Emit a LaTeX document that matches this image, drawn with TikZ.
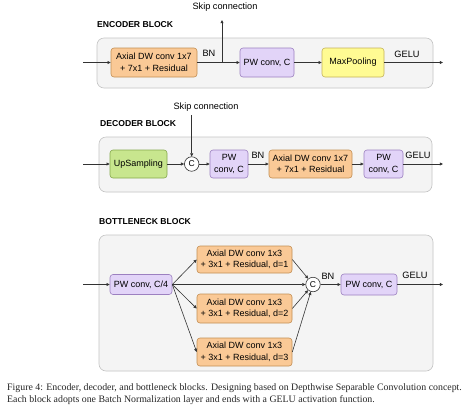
\documentclass[tikz,border=0pt]{standalone}
\usepackage{fontspec}
\setmainfont{Liberation Serif}
\setsansfont{Liberation Sans}
\usetikzlibrary{arrows.meta}
\definecolor{blkfill}{HTML}{F4F4F4}
\definecolor{blkdraw}{HTML}{C4C4C4}
\definecolor{orfill}{HTML}{FAC996}
\definecolor{ordraw}{HTML}{C38E52}
\definecolor{pufill}{HTML}{E2D4F8}
\definecolor{pudraw}{HTML}{9C80C0}
\definecolor{yefill}{HTML}{FFFB93}
\definecolor{yedraw}{HTML}{C4B25A}
\definecolor{grfill}{HTML}{C8E68E}
\definecolor{grdraw}{HTML}{84A84C}
\definecolor{lnc}{HTML}{333333}
\tikzset{
  blk/.style={draw=blkdraw, fill=blkfill, rounded corners=7pt, line width=0.6pt},
  box/.style={rounded corners=3pt, line width=0.6pt, inner sep=0pt, align=center,
    font=\sffamily\fontsize{9}{11.5}\selectfont, text=black},
  orbox/.style={box, draw=ordraw, fill=orfill},
  pubox/.style={box, draw=pudraw, fill=pufill},
  yebox/.style={box, draw=yedraw, fill=yefill},
  grbox/.style={box, draw=grdraw, fill=grfill},
  ccirc/.style={circle, draw=lnc, fill=white, line width=0.6pt, minimum size=14.5pt, inner sep=0pt,
    font=\sffamily\fontsize{8.5}{10}\selectfont},
  lbl/.style={font=\sffamily\fontsize{9.2}{11}\selectfont, inner sep=0pt},
  ttl/.style={font=\sffamily\bfseries\fontsize{8.6}{10}\selectfont, inner sep=0pt, anchor=west},
  arr/.style={draw=lnc, line width=0.6pt, -{Triangle[length=3.2pt,width=3pt]}},
  ln/.style={draw=lnc, line width=0.6pt},
  captxt/.style={font=\rmfamily\fontsize{9.85}{12}\selectfont, inner sep=0pt, anchor=west, text=black!85}
}
\begin{document}
\begin{tikzpicture}[x=1pt,y=-1pt]
\useasboundingbox[fill=white] (0,0) rectangle (474,408);

% ===== Encoder =====
\node[ttl] (enct) at (97,25) {ENCODER BLOCK};
\draw[blk] (97,38) rectangle (433,88);
\node[orbox, minimum width=86pt, minimum height=29pt] (eax) at (154,62.5) {Axial DW conv 1x7\\+ 7x1 + Residual};
\node[pubox, minimum width=54pt, minimum height=29pt] (epw) at (267,62.5) {PW conv, C};
\node[yebox, minimum width=62pt, minimum height=29pt] (emp) at (353,62.5) {MaxPooling};
\coordinate (ein) at (83,62.5);
\coordinate (eout) at (443,62.5);
\coordinate (esk) at (222,62.5);
\coordinate (eskt) at (222,20);
\node[lbl] (eskl) at (225,7) {Skip connection};
\node[lbl] (ebn) at (209,53) {BN};
\node[lbl] (egelu) at (407,54) {GELU};
\draw[arr] (ein) -- (eax);
\draw[arr] (eax) -- (epw);
\draw[arr] (esk) -- (eskt);
\draw[arr] (epw) -- (emp);
\draw[arr] (emp) -- (eout);

% ===== Decoder =====
\node[ttl] (dect) at (100,124) {DECODER BLOCK};
\draw[blk] (99,137) rectangle (432,192);
\node[grbox, minimum width=57pt, minimum height=28pt] (dup) at (138.5,164) {UpSampling};
\node[ccirc] (dc) at (191.7,164) {C};
\node[pubox, minimum width=38pt, minimum height=28pt] (dpw1) at (229,164) {PW\\conv, C};
\node[orbox, minimum width=83pt, minimum height=28pt] (dax) at (310.5,164) {Axial DW conv 1x7\\+ 7x1 + Residual};
\node[pubox, minimum width=39pt, minimum height=28pt] (dpw2) at (383.5,164) {PW\\conv, C};
\coordinate (din) at (83,164);
\coordinate (dout) at (443,164);
\coordinate (dskt) at (191.7,115);
\node[lbl] (dskl) at (206,107) {Skip connection};
\node[lbl] (dbn) at (258,155) {BN};
\node[lbl] (dgelu) at (418,155) {GELU};
\draw[arr] (din) -- (dup);
\draw[arr] (dup) -- (dc);
\draw[arr] (dskt) -- (dc);
\draw[arr] (dc) -- (dpw1);
\draw[arr] (dpw1) -- (dax);
\draw[arr] (dax) -- (dpw2);
\draw[arr] (dpw2) -- (dout);

% ===== Bottleneck =====
\node[ttl] (bott) at (99,222) {BOTTLENECK BLOCK};
\draw[blk] (99,235) rectangle (433,371);
\node[pubox, minimum width=62pt, minimum height=20pt] (bpw1) at (141,284.5) {PW conv, C/4};
\node[orbox, minimum width=95pt, minimum height=27pt] (bd1) at (244.5,259.5) {Axial DW conv 1x3\\+ 3x1 + Residual, d=1};
\node[orbox, minimum width=95pt, minimum height=29pt] (bd2) at (244.5,308.5) {Axial DW conv 1x3\\+ 3x1 + Residual, d=2};
\node[orbox, minimum width=95pt, minimum height=28pt] (bd3) at (244.5,352) {Axial DW conv 1x3\\+ 3x1 + Residual, d=3};
\node[ccirc] (bc) at (313,284.5) {C};
\node[pubox, minimum width=56pt, minimum height=21pt] (bpw2) at (369,284.5) {PW conv, C};
\coordinate (bin) at (83,284.5);
\coordinate (bout) at (443,284.5);
\node[lbl] (bbn) at (328,276) {BN};
\node[lbl] (bgelu) at (415,275) {GELU};
\draw[arr] (bin) -- (bpw1);
\draw[arr] (bpw1.east) -- (bd1.west);
\draw[arr] (bpw1.east) -- (bd2.west);
\draw[arr] (bpw1.east) -- (bd3.west);
\draw[arr] (bpw1) -- (bc);
\draw[arr] (bd1.east) -- (bc);
\draw[arr] (bd2.east) -- (bc);
\draw[arr] (bd3.east) -- (bc);
\draw[arr] (bc) -- (bpw2);
\draw[arr] (bpw2) -- (bout);

% ===== Caption =====
\node[captxt] (cap1) at (7,388) {Figure 4: Encoder, decoder, and bottleneck blocks. Designing based on Depthwise Separable Convolution concept.};
\node[captxt] (cap2) at (7,400.5) {Each block adopts one Batch Normalization layer and ends with a GELU activation function.};
\end{tikzpicture}
\end{document}
